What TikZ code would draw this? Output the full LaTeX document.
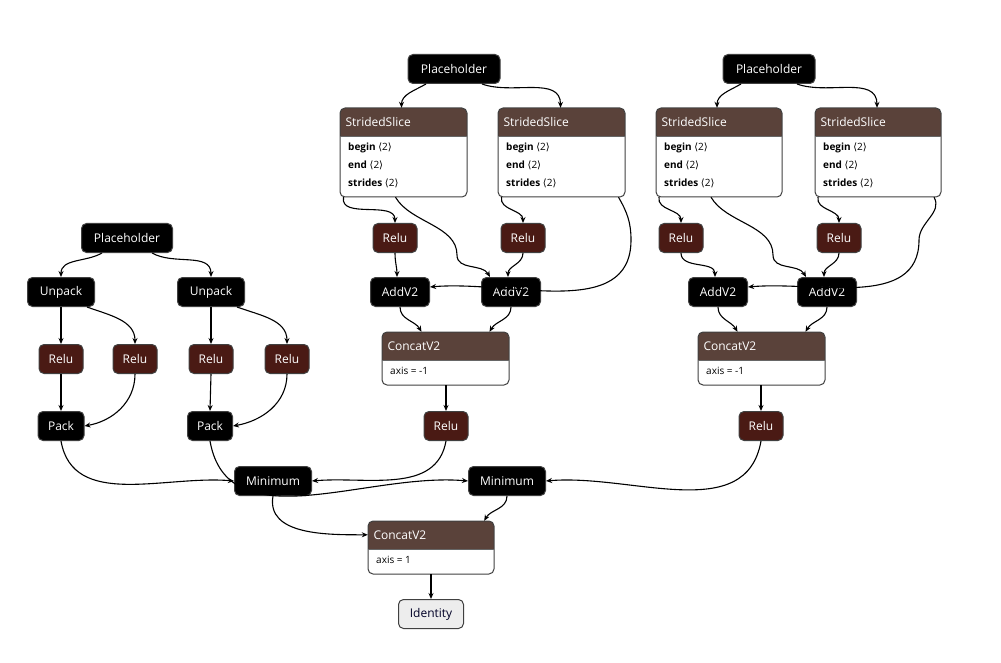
\documentclass[tikz,border=0pt]{standalone}
\usepackage{fontspec}
\setmainfont{Open Sans}
\newfontfamily\djv{DejaVu Sans}
\usetikzlibrary{calc,fit,arrows.meta}
\definecolor{relu}{HTML}{4A1A14}
\definecolor{hdr}{HTML}{5A423A}
\newcommand\ttl{\fontsize{12}{14}\selectfont}
\newcommand\att{\fontsize{10}{18}\selectfont}
\newcommand\vv{{\djv\char"27E8}2{\djv\char"27E9}}
\newcommand\ssbody{\textbf{begin} \vv\\\textbf{end} \vv\\\textbf{strides} \vv}
\newcommand\attrnode[7]{%
 \begin{scope}\clip[rounded corners=5pt] (#2,#3) rectangle (#4,#5);
 \fill[hdr] (#2,#3) rectangle (#4,{#3+28}); \fill[white] (#2,{#3+28}) rectangle (#4,#5); \end{scope}
 \draw[black!75, rounded corners=5pt, line width=1pt] (#2,#3) rectangle (#4,#5);
 \draw[line width=0.6pt, black!60] (#2,{#3+28}) -- (#4,{#3+28});
 \node[anchor=west, white, font=\ttl] at ({#2+2},{#3+14}) {#6};
 \node[anchor=north west, align=left, font=\att, inner sep=0] at ({#2+8},{#3+35}) {#7};
 \path (#2,#3) coordinate (#1-nw) (#4,#5) coordinate (#1-se);
 \node[fit=(#1-nw)(#1-se), inner sep=0] (#1) {};}
\begin{document}
\begin{tikzpicture}[x=1pt,y=-1pt,
 op/.style={rounded corners=5pt, draw=black!75, line width=1pt, font=\ttl, text=white, minimum height=29pt, inner xsep=7pt},
 blk/.style={op, fill=black},
 rl/.style={op, fill=relu, minimum width=44pt, inner xsep=3pt},
 e/.style={-{Stealth[length=6pt,width=5pt]}, line width=1.1pt}]
\useasboundingbox (0,0) rectangle (1001,663);
% top placeholders
\node[blk, minimum width=92pt] (p1) at (454,69) {Placeholder};
\node[blk, minimum width=92pt] (p2) at (769,69) {Placeholder};
\node[blk, minimum width=91pt] (p0) at (127,238) {Placeholder};
\attrnode{s1}{340}{108}{467}{197}{StridedSlice}{\ssbody}
\attrnode{s2}{498}{108}{625}{197}{StridedSlice}{\ssbody}
\attrnode{s3}{656}{108}{782}{197}{StridedSlice}{\ssbody}
\attrnode{s4}{815}{108}{941}{197}{StridedSlice}{\ssbody}
\node[rl] (r1) at (395,238) {Relu};
\node[rl] (r2) at (523,238) {Relu};
\node[rl] (r3) at (681,238) {Relu};
\node[rl] (r4) at (839,238) {Relu};
\node[blk, minimum width=59pt] (a1) at (400,292) {AddV2};
\node[blk, minimum width=59pt] (a2) at (511,292) {AddV2};
\node[blk, minimum width=59pt] (a3) at (718,292) {AddV2};
\node[blk, minimum width=59pt] (a4) at (827,292) {AddV2};
\attrnode{c1}{382}{332}{509}{385}{ConcatV2}{axis = -1}
\attrnode{c2}{698}{332}{825}{385}{ConcatV2}{axis = -1}
\node[rl] (ra) at (446,426) {Relu};
\node[rl] (rb) at (761,426) {Relu};
% left branch
\node[blk, minimum width=67pt] (u1) at (61,292) {Unpack};
\node[blk, minimum width=67pt] (u2) at (211,292) {Unpack};
\node[rl] (l1) at (61,359) {Relu};
\node[rl] (l2) at (135,359) {Relu};
\node[rl] (l3) at (211,359) {Relu};
\node[rl] (l4) at (287,359) {Relu};
\node[blk, minimum width=46pt] (k1) at (61,426) {Pack};
\node[blk, minimum width=45pt] (k2) at (210,426) {Pack};
\node[blk, minimum width=77pt] (m1) at (273,481) {Minimum};
\node[blk, minimum width=77pt] (m2) at (507,481) {Minimum};
\attrnode{cc}{368}{521}{494}{574}{ConcatV2}{axis = 1}
\node[op, fill=black!7, text=black!85!blue, minimum width=65pt] (id) at (431,614) {Identity};
% edges top
\foreach \p/\a/\b in {p1/s1/s2,p2/s3/s4}{
 \draw[e] ($(\p.south)+(-28,0)$) to[out=-150,in=90] ($(\a.north)+(-2,0)$);
 \draw[e] ($(\p.south)+(28,0)$) to[out=-20,in=90] ($(\b.north)+(-1,0)$);}
\foreach \s/\r in {s1/r1,s2/r2,s3/r3,s4/r4}
 \draw[e] ($(\s.south)+(-60,0)$) to[out=-100,in=90] (\r.north);
\foreach \r/\a in {r1/a1,r2/a2,r3/a3,r4/a4}
 \draw[e] (\r.south) to[out=-90,in=90] ($(\a.north)+(-3,0)$);
\draw[e] ($(s1.south)+(-8,0)$) to[out=-60,in=90,looseness=0.9] (457,255) to[out=-90,in=120] ($(a2.north)+(-21,0)$);
\draw[e] ($(s3.south)+(-8,0)$) to[out=-60,in=90,looseness=0.9] (773,255) to[out=-90,in=120] ($(a4.north)+(-21,0)$);
\draw[e] ($(s2.south)+(57,0)$) to[out=-60,in=90] (631,240) to[out=-90,in=5] (430,287);
\draw[e] ($(s4.south)+(56,0)$) to[out=-60,in=90] (919,240) to[out=-90,in=5] (748,287);
\draw[e] ($(a1.south)+(0,0)$) to[out=-90,in=120] ($(c1.north)+(-24,0)$);
\draw[e] ($(a2.south)+(0,0)$) to[out=-90,in=60] ($(c1.north)+(44,0)$);
\draw[e] ($(a3.south)+(0,0)$) to[out=-90,in=120] ($(c2.north)+(-24,0)$);
\draw[e] ($(a4.south)+(0,0)$) to[out=-90,in=60] ($(c2.north)+(44,0)$);
\draw[e] (446,385) -- (ra.north);
\draw[e] (761,385) -- (rb.north);
% left
\draw[e] ($(p0.south)+(-25,0)$) to[out=-150,in=90] (u1.north);
\draw[e] ($(p0.south)+(25,0)$) to[out=-30,in=90] (u2.north);
\draw[e] (u1.south) -- (l1.north);
\draw[e] (u2.south) -- (l3.north);
\draw[e] ($(u1.south east)+(-8,0)$) to[out=-20,in=90] (l2.north);
\draw[e] ($(u2.south east)+(-8,0)$) to[out=-20,in=90] (l4.north);
\draw[e] (l1.south) -- (k1.north);
\draw[e] (l3.south) -- (k2.north);
\draw[e] (l2.south) to[out=-90,in=10] (k1.east);
\draw[e] (l4.south) to[out=-90,in=10] (k2.east);
% minimums
\draw[e] (k1.south) to[out=-80,in=175] (m1.west);
\draw[e] (k2.south) to[out=-80,in=175] (m2.west);
\draw[e] (ra.south) to[out=-100,in=5] (m1.east);
\draw[e] (rb.south) to[out=-100,in=5] (m2.east);
\draw[e] (m1.south) to[out=-100,in=180] ($(cc.north west)+(0,14)$);
\draw[e] (m2.south) to[out=-90,in=60] ($(cc.north east)+(-10,0)$);
\draw[e] (431,574) -- (id.north);
\end{tikzpicture}
\end{document}
